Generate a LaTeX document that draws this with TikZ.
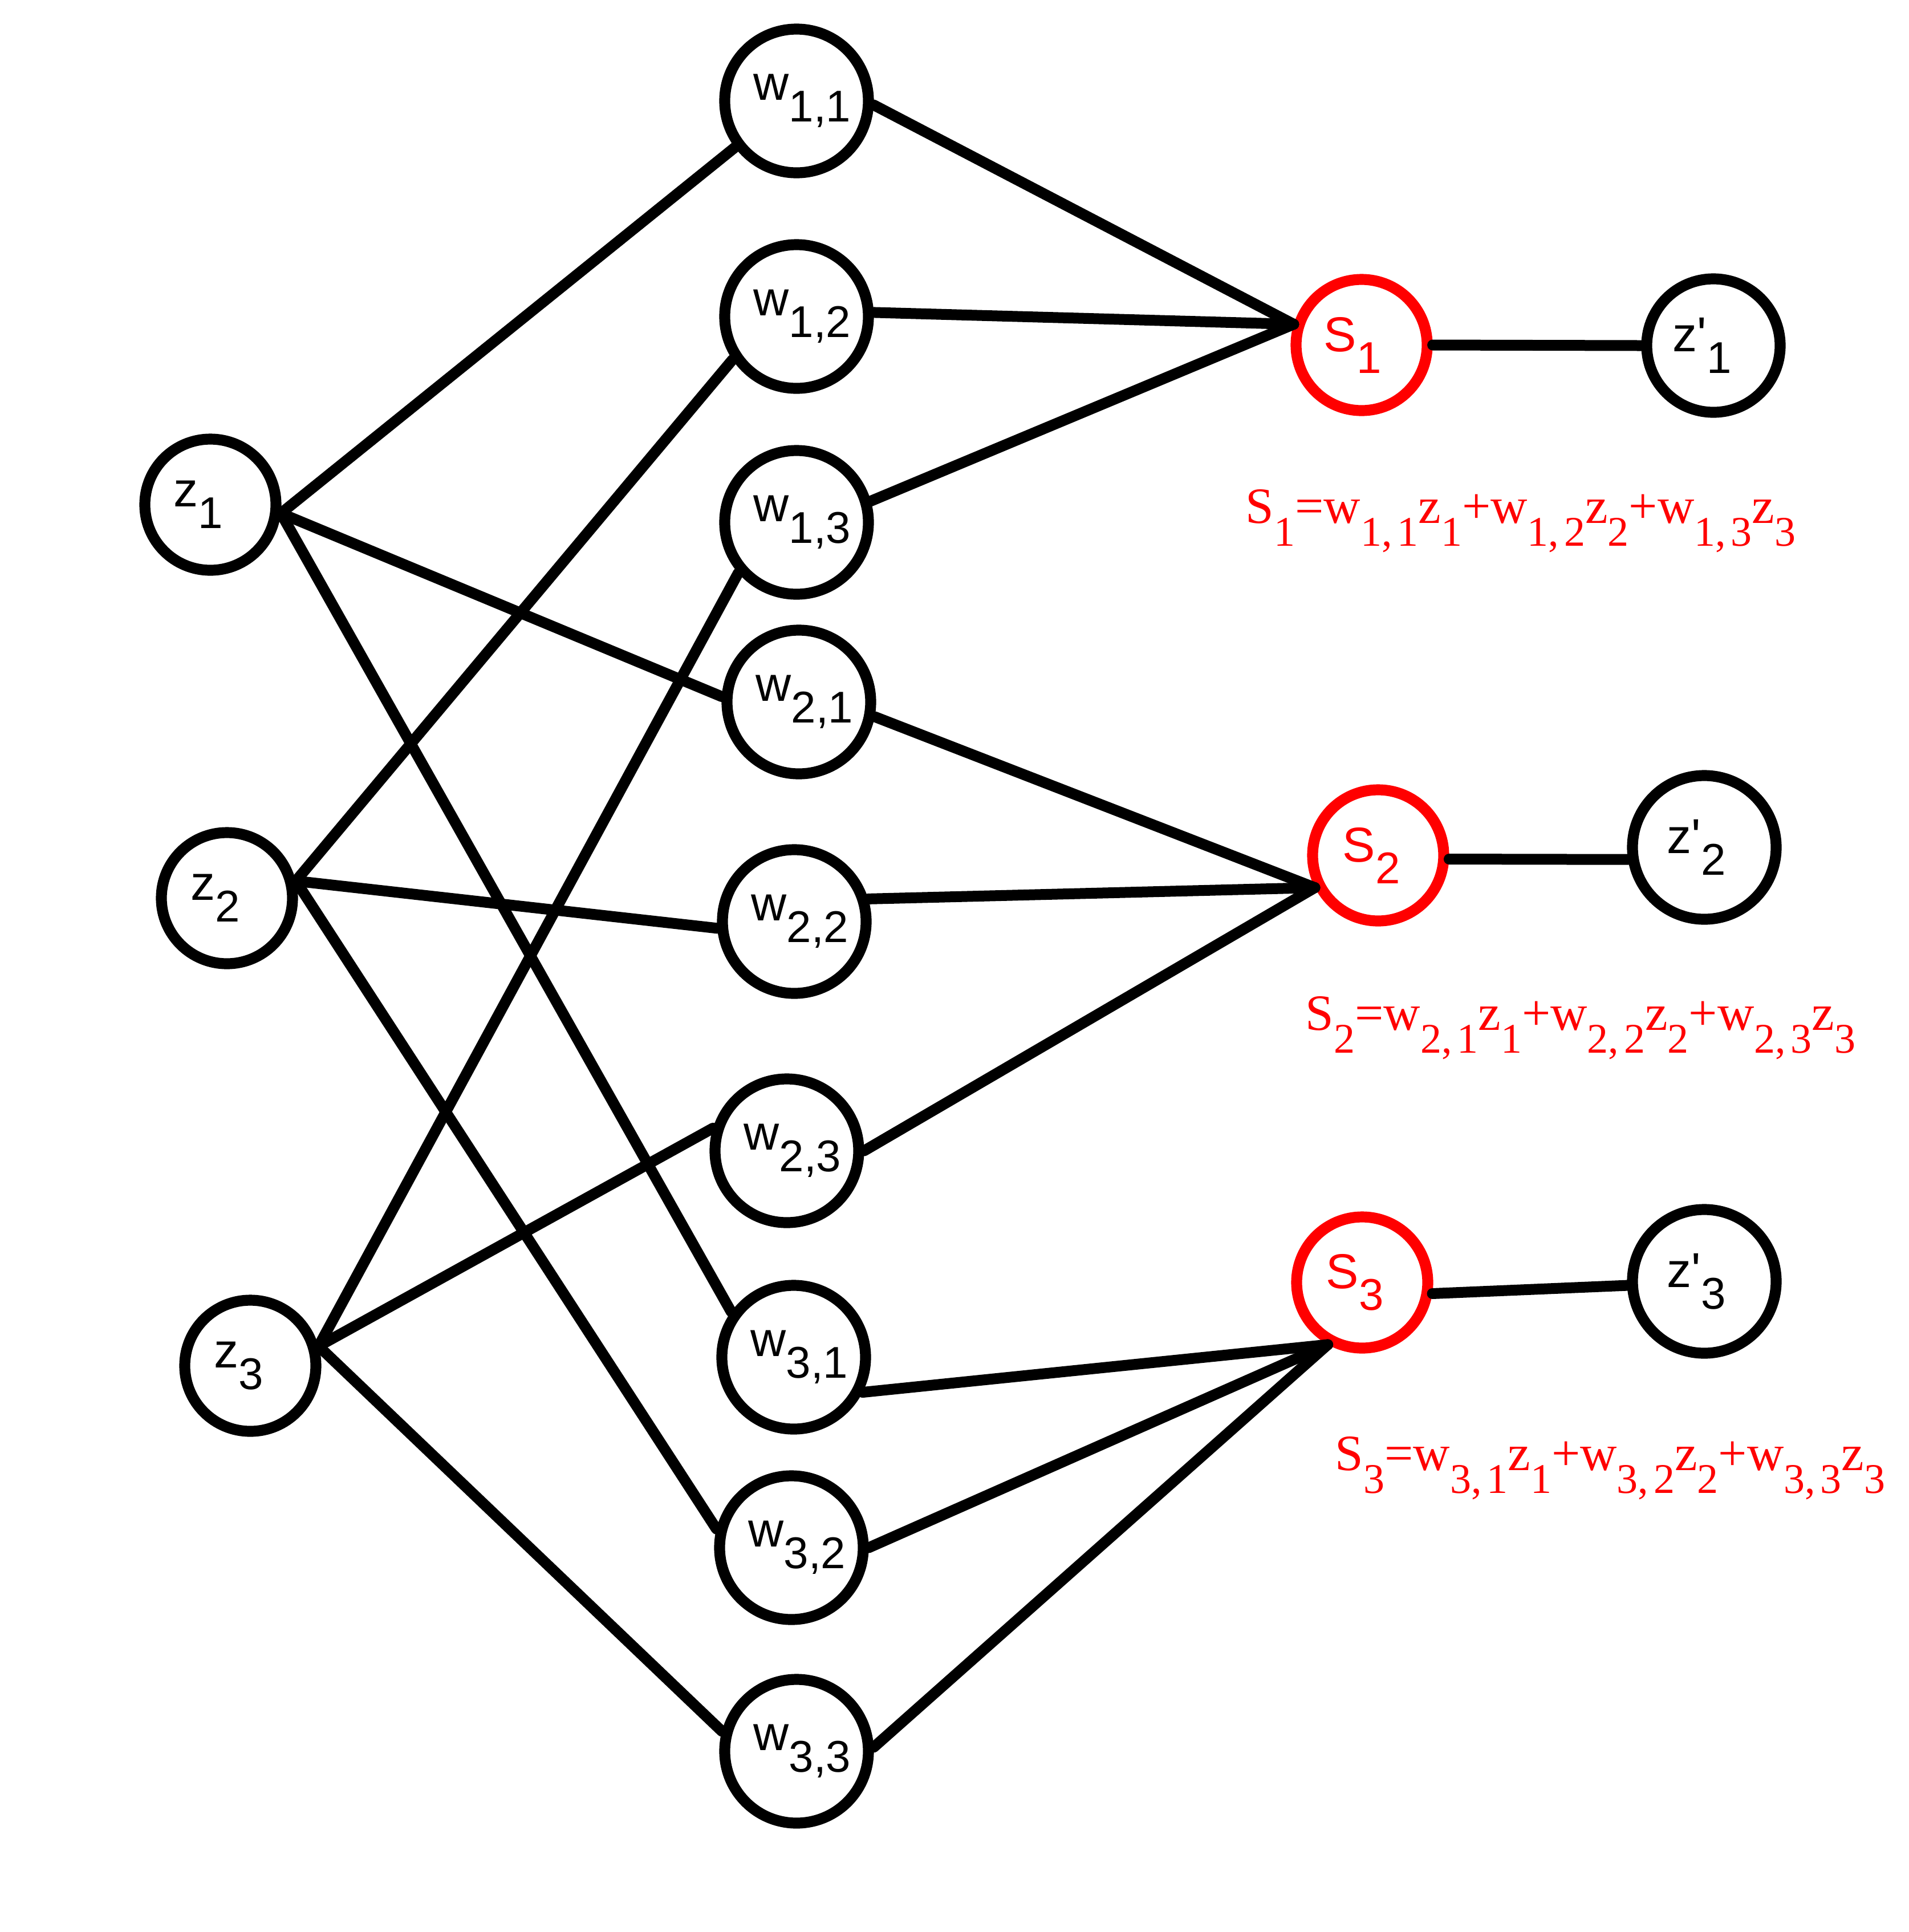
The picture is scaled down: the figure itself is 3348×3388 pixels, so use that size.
\documentclass[tikz,border=0pt]{standalone}
\usepackage{fontspec}
\newfontfamily\lab{Liberation Sans}
\newfontfamily\eqf{Liberation Serif}
\newcommand\lo[1]{\raisebox{-9.5pt}{\fontsize{19.5}{19.5}\selectfont #1}}
\newcommand\dn[1]{\raisebox{-10pt}{\fontsize{18.5}{18.5}\selectfont #1}}
\newcommand\cs{,\hspace{0.12em}}
\newcommand\lb[2]{\hspace*{5pt}#1\lo{#2}}
\newcommand\rb[3]{#1\lo{#2}\hspace*{#3}}
\begin{document}
\begin{tikzpicture}[x=0.25pt,y=-0.25pt,
  base/.style={circle,draw=black,line width=4.8pt,inner sep=0pt,
    font=\lab\fontsize{21.5}{21.5}\selectfont},
  wnode/.style={base,minimum size=63pt},
  znode/.style={base,minimum size=57.5pt},
  snode/.style={base,draw=red,text=red,minimum size=57.5pt},
  edge/.style={line width=4.75pt,line cap=round},
  eq/.style={anchor=base west,inner sep=0pt,text=red,
    font=\eqf\fontsize{22.3}{22.3}\selectfont}]
\useasboundingbox[fill=white] (0,0) rectangle (3348,3388);
% w nodes
\node[wnode] (w11) at (1397,177)  {\lb{w}{1,1}};
\node[wnode] (w12) at (1397,555)  {\lb{w}{1,2}};
\node[wnode] (w13) at (1397,916)  {\lb{w}{1,3}};
\node[wnode] (w21) at (1401,1231) {\lb{w}{2,1}};
\node[wnode] (w22) at (1393,1616) {\lb{w}{2,2}};
\node[wnode] (w23) at (1380,2018) {\lb{w}{2,3}};
\node[wnode] (w31) at (1392,2380) {\lb{w}{3,1}};
\node[wnode] (w32) at (1388,2714) {\lb{w}{3,2}};
\node[wnode] (w33) at (1397,3071) {\lb{w}{3,3}};
% z nodes
\node[znode] (z1) at (369,885)  {\rb{z}{1}{10.5pt}};
\node[znode] (z2) at (398,1575) {\rb{z}{2}{10pt}};
\node[znode] (z3) at (439,2395) {\rb{z}{3}{10pt}};
% S nodes
\node[snode] (S1) at (2388,605)  {\rb{S}{1}{8pt}};
\node[snode] (S2) at (2417,1500) {\rb{S}{2}{6pt}};
\node[snode] (S3) at (2389,2249) {\rb{S}{3}{6.5pt}};
% z' nodes
\node[znode,minimum size=58.5pt] (zp1) at (3005,606)  {\rb{z'}{1}{10pt}};
\node[wnode] (zp2) at (2989,1486) {\rb{z'}{2}{7pt}};
\node[wnode] (zp3) at (2989,2247) {\rb{z'}{3}{7pt}};
% edges
\draw[edge] (z1.-7) -- (w11.217);
\draw[edge] (z1.-7) -- (w21.176);
\draw[edge] (z1.-7) -- (w31.144);
\draw[edge] (z2.14) -- (w12.214);
\draw[edge] (z2.14) -- (w22.185);
\draw[edge] (z2.14) -- (w32.166);
\draw[edge] (z3.16) -- (w13.221);
\draw[edge] (z3.16) -- (w23.163);
\draw[edge] (z3.16) -- (w33.165);
\draw[edge] (w11.-3) -- (S1.163);
\draw[edge] (w12.3) -- (S1.163);
\draw[edge] (w13.16) -- (S1.163);
\draw[edge] (w21.-11) -- (S2.207);
\draw[edge] (w22.17) -- (S2.207);
\draw[edge] (w23.0) -- (S2.207);
\draw[edge] (w31.-27) -- (S3.241);
\draw[edge] (w32.0) -- (S3.241);
\draw[edge] (w33.3) -- (S3.241);
\draw[edge] (S1.0) -- (zp1.180);
\draw[edge] (S2.-3) -- (zp2.189);
\draw[edge] (S3.-9) -- (zp3.183);
% equations
\node[eq] (e1) at (2184,917)  {S\dn{1}=w\dn{1\cs1}z\dn{1}+w\dn{1\cs2}z\dn{2}+w\dn{1\cs3}z\dn{3}};
\node[eq] (e2) at (2289,1806) {S\dn{2}=w\dn{2\cs1}z\dn{1}+w\dn{2\cs2}z\dn{2}+w\dn{2\cs3}z\dn{3}};
\node[eq] (e3) at (2341,2578) {S\dn{3}=w\dn{3\cs1}z\dn{1}+w\dn{3\cs2}z\dn{2}+w\dn{3\cs3}z\dn{3}};
\end{tikzpicture}
\end{document}
